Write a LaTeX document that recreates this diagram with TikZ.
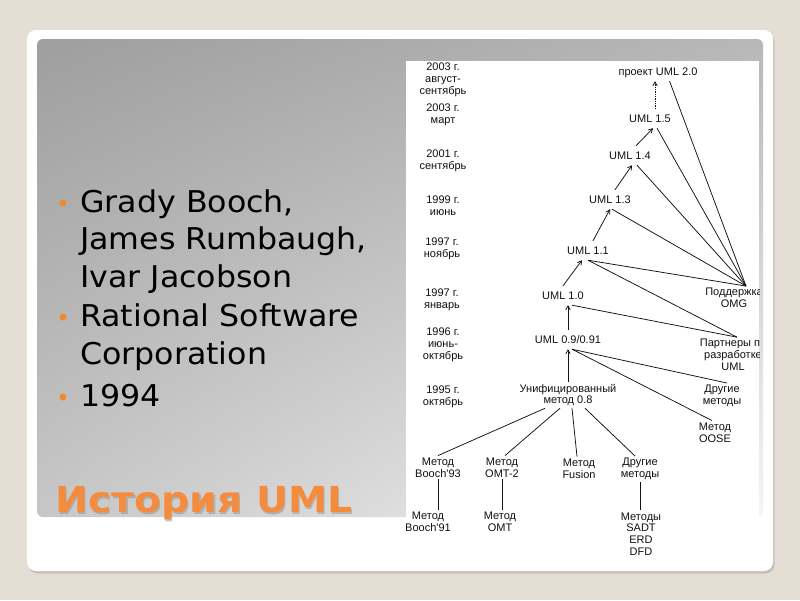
\documentclass[tikz,border=0pt]{standalone}
\usepackage{fontspec}
\setmainfont{DejaVu Sans}
\newfontfamily\diagfont{Liberation Sans}
\newfontfamily\bulfont{DejaVu Sans}[FakeStretch=1.055]
\newfontfamily\ttlfont{DejaVu Sans}[FakeStretch=1.1]
\usetikzlibrary{arrows,shadows,shadings}

\definecolor{slidebg}{HTML}{E4DED4}
\definecolor{titleorange}{HTML}{F58B3D}
\definecolor{dotorange}{HTML}{F08A30}
\definecolor{ink}{HTML}{111111}

\tikzset{
  ver/.style={font=\diagfont\fontsize{11}{12}\selectfont, text=ink,
    text height=8pt, text depth=1pt, inner xsep=1pt, inner ysep=5pt},
  note/.style={font=\diagfont\fontsize{11}{11.8}\selectfont, text=ink,
    align=center, inner sep=2pt},
  link/.style={draw=ink, line width=0.75pt},
  up/.style={link, ->, >=angle 60},
  bul/.style={font=\bulfont\fontsize{30}{37}\selectfont, anchor=base west, inner sep=0pt},
  ttl/.style={font=\ttlfont\bfseries\fontsize{35.8}{40}\selectfont, anchor=base west, inner sep=0pt}
}

\begin{document}
\begin{tikzpicture}[x=1pt,y=-1pt]
\useasboundingbox (0,0) rectangle (800,600);
\fill[slidebg] (0,0) rectangle (800,600);
% card and panel
\path[fill=white, rounded corners=9pt,
  drop shadow={shadow xshift=1.5pt, shadow yshift=-2.5pt, opacity=0.3}]
  (27,30) rectangle (773,571);
\shade[rounded corners=6pt, upper left=black!38, upper right=black!28,
  lower left=black!22, lower right=black!4] (37,39) rectangle (763,517);
\fill[white] (406,61) rectangle (759,562);

% bullets
\foreach \yy in {203,317,397}
  \fill[dotorange] (63,\yy) circle (3.5);
\node[bul] (l1) at (80,212) {Grady Booch,};
\node[bul] (l2) at (80,249.5) {James Rumbaugh,};
\node[bul] (l3) at (80,287) {Ivar Jacobson};
\node[bul] (l4) at (80,326) {Rational Software};
\node[bul] (l5) at (80,364) {Corporation};
\node[bul] (l6) at (80,406) {1994};

% title
\node[ttl, text=black!50, opacity=0.4] at (56.5,514) {История UML};
\node[ttl, text=titleorange] (title) at (55,512.5) {История UML};

\begin{scope}
\clip (406,61) rectangle (759,562);
% dates
\node[note] (d1) at (443,80) {2003 г.\\август-\\сентябрь};
\node[note] (d2) at (443,115) {2003 г.\\март};
\node[note] (d3) at (443,161) {2001 г.\\сентябрь};
\node[note] (d4) at (443,205.5) {1999 г.\\июнь};
\node[note] (d5) at (442,249) {1997 г.\\ноябрь};
\node[note] (d6) at (442,300) {1997 г.\\январь};
\node[note] (d7) at (443,345) {1996 г.\\июнь-\\октябрь};
\node[note] (d8) at (443,396.5) {1995 г.\\октябрь};

% versions
\node[ver] (v20) at (658,71.5) {проект UML 2.0};
\node[ver] (v15) at (650,118.5) {UML 1.5};
\node[ver] (v14) at (630,155.5) {UML 1.4};
\node[ver] (v13) at (610,199.5) {UML 1.3};
\node[ver] (v11) at (588,250.5) {UML 1.1};
\node[ver] (v10) at (563,295.5) {UML 1.0};
\node[ver] (v09) at (568,339.5) {UML 0.9/0.91};
\node[note] (uni) at (568,395) {Унифицированный\\метод 0.8};

% methods
\node[note] (b93) at (438,467.5) {Метод\\Booch'93};
\node[note] (omt2) at (502,467.5) {Метод\\OMT-2};
\node[note] (fus) at (579,468.5) {Метод\\Fusion};
\node[note] (oth) at (640,469) {Другие\\методы};
\node[note] (b91) at (428,522) {Метод\\Booch'91};
\node[note] (omt) at (500,522) {Метод\\OMT};
\node[note] (sadt) at (641,534) {Методы\\SADT\\ERD\\DFD};

% contributors
\node[note] (omg) at (734,298) {Поддержка\\OMG};
\node[note] (ptn) at (733,355) {Партнеры по\\разработке\\UML};
\node[note] (oth2) at (722,396) {Другие\\методы};
\node[note] (oose) at (715,432.5) {Метод\\OOSE};
\coordinate (omgin) at ([xshift=12pt]omg.north);
\coordinate (ptnin) at ([xshift=4pt]ptn.north);

% releases
\draw[up] (uni.north) -- (v09.south);
\draw[up] (v09.north) -- (v09.north |- v10.south);
\draw[up] (v10.north) -- ([xshift=-6pt]v11.south);
\draw[up] ([xshift=5pt]v11.north) -- (v13.south);
\draw[up] ([xshift=5pt]v13.north) -- ([xshift=2pt]v14.south);
\draw[up] ([xshift=6pt]v14.north) -- ([xshift=3pt]v15.south);
\draw[up, densely dotted] ([xshift=5pt]v15.north) -- ([xshift=5pt]v15.north |- v20.south);

% OMG and partners
\draw[link] (v20.-40) -- (omgin);
\draw[link] ([xshift=7pt]v15.south) -- (omgin);
\draw[link] ([xshift=7pt]v14.south) -- (omgin);
\draw[link] ([xshift=2pt]v13.south) -- (omgin);
\draw[link] (v11.south) -- (omgin);
\draw[link] (v11.south) -- (ptnin);
\draw[link] ([xshift=9pt]v10.south) -- (ptnin);
\draw[link] ([xshift=4pt]v09.south) -- ([xshift=5pt]oth2.north);
\draw[link] ([xshift=4pt]v09.south) -- ([xshift=-3pt]oose.north);

% sources
\draw[link] ([xshift=-23pt]uni.south) -- (b93.north);
\draw[link] ([xshift=-8pt]uni.south) -- ([xshift=3pt]omt2.north);
\draw[link] ([xshift=4pt]uni.south) -- ([xshift=-2pt]fus.north);
\draw[link] ([xshift=17pt]uni.south) -- ([xshift=-5pt]oth.north);
\draw[link] (b93.south) -- (b93.south |- b91.north);
\draw[link] (omt2.south) -- (omt2.south |- omt.north);
\draw[link] (oth.south) -- (oth.south |- sadt.north);
\end{scope}
\end{tikzpicture}
\end{document}
